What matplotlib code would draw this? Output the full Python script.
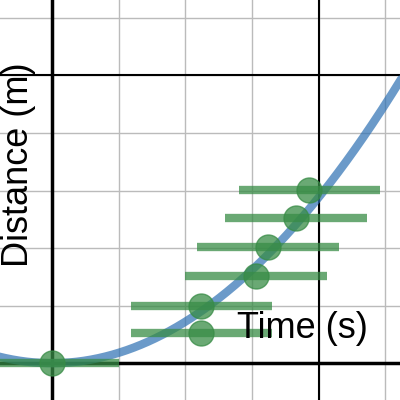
import numpy as np
import matplotlib
matplotlib.use("Agg")
import matplotlib.pyplot as plt

time_s = [0.0, 1.12, 1.12, 1.53, 1.62, 1.83, 1.93]
dist_m = [0.0, 1.0, 0.52, 1.51, 2.02, 2.52, 3.01]
xerr = [0.5, 0.53, 0.53, 0.53, 0.53, 0.53, 0.53]
coef = 0.72

fig = plt.figure(figsize=(4, 4), dpi=100)
ax = fig.add_axes([0, 0, 1, 1])
ax.set_xlim(-0.39, 2.61)
ax.set_ylim(-0.64, 6.31)
for v in np.arange(-0.5, 3.0, 0.5):
    ax.axvline(v, color='#bbbbbb', lw=1, zorder=0)
for v in range(-1, 7):
    ax.axhline(v, color='#bbbbbb', lw=1, zorder=0)
ax.axvline(2, color='black', lw=1.5, zorder=1)
ax.axhline(5, color='black', lw=1.5, zorder=1)
ax.axvline(0, color='black', lw=2.5, zorder=1)
ax.axhline(0, color='black', lw=2.5, zorder=1)

xs = np.linspace(-0.5, 2.7, 300)
ax.plot(xs, coef * xs**2, color='#2d70b3', lw=6, alpha=0.7, zorder=2, solid_capstyle='round')
ax.errorbar(time_s, dist_m, xerr=xerr, fmt='o', color='#388c46', ms=18, alpha=0.75,
            elinewidth=6, capsize=0, zorder=3)
ax.text(2.37, 0.6, "Time (s)", fontsize=26, family='Liberation Sans', ha='right', va='center')
ax.text(-0.25, 3.44, "Distance (m)", fontsize=26, family='Liberation Sans', rotation=90,
        ha='center', va='center')
ax.set_xticks([]); ax.set_yticks([])
for s in ax.spines.values():
    s.set_visible(False)
fig.savefig("out.png", dpi=100)
